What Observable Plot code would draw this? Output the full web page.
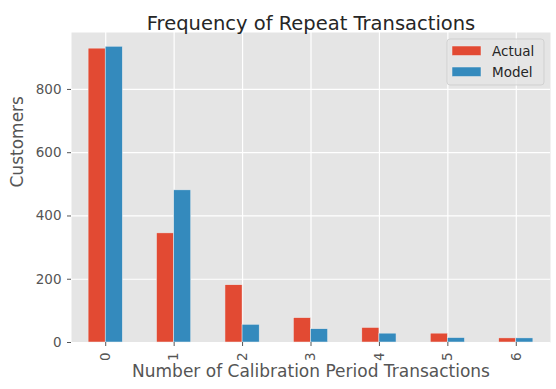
<!DOCTYPE html>
<html>
<head>
<meta charset="utf-8">
<script src="https://cdn.jsdelivr.net/npm/d3@7"></script>
<script src="https://cdn.jsdelivr.net/npm/@observablehq/plot@0.6"></script>
<style>
  html, body { margin: 0; padding: 0; background: white; }
  #chart { width: 556px; height: 389px; }
</style>
</head>
<body>
<div id="chart"></div>
<script>
const categories = [0, 1, 2, 3, 4, 5, 6];
const actual = [929, 345, 181, 77, 46, 28, 13];
const model = [935, 481, 56, 42, 28, 14, 13];
const seriesNames = ["Actual", "Model"];
const seriesColors = ["#E24A33", "#348ABD"];
const yTicks = [0, 200, 400, 600, 800];
const titleText = "Frequency of Repeat Transactions";
const xLabel = "Number of Calibration Period Transactions";
const yLabel = "Customers";

const data = categories.flatMap((c, i) => [
  {cat: c, series: "Actual", value: actual[i]},
  {cat: c, series: "Model", value: model[i]}
]);
const offsets = {Actual: [-0.25, 0], Model: [0, 0.25]};

const font = "DejaVu Sans";
const chart = Plot.plot({
  width: 556,
  height: 389,
  marginLeft: 71,
  marginRight: 6,
  marginTop: 32,
  marginBottom: 47,
  style: {fontFamily: font, fontSize: "13.5px", color: "#555555", background: "white", overflow: "visible"},
  x: {domain: [-0.5, 6.5]},
  y: {domain: [0, 980]},
  color: {domain: seriesNames, range: seriesColors},
  marks: [
    Plot.frame({fill: "#E5E5E5", stroke: "none"}),
    Plot.gridX(categories, {stroke: "white", strokeOpacity: 1, strokeWidth: 1.2}),
    Plot.gridY(yTicks, {stroke: "white", strokeOpacity: 1, strokeWidth: 1.2}),
    Plot.rect(data, {
      x1: d => d.cat + offsets[d.series][0],
      x2: d => d.cat + offsets[d.series][1],
      y1: d => 0,
      y2: "value",
      fill: "series",
      stroke: "#EEEEEE",
      strokeWidth: 0.5
    }),
    Plot.axisY(yTicks, {tickSize: 4, tickPadding: 6, stroke: "#555555", fill: "#555555", fontSize: 13.5, label: null}),
    Plot.axisX(categories, {tickSize: 4, tickPadding: 6, tickRotate: -90, stroke: "#555555", fill: "#555555", fontSize: 13.5, label: null}),
    Plot.text([yLabel], {frameAnchor: "left", rotate: -90, dx: -54, fontSize: 17, fill: "#555555"}),
    Plot.text([xLabel], {frameAnchor: "bottom", dy: 34, fontSize: 17, fill: "#555555"}),
    Plot.text([titleText], {frameAnchor: "top", dy: -16, fontSize: 19.5, fill: "#262626"})
  ]
});
document.getElementById("chart").appendChild(chart);

// Legend (matplotlib-style box in the upper right of the axes)
const svg = d3.select(chart);
const lg = svg.append("g").attr("font-family", font).attr("font-size", 13.5).attr("text-anchor", "start");
lg.append("rect")
  .attr("x", 447).attr("y", 39).attr("width", 97).attr("height", 46)
  .attr("rx", 3).attr("fill", "#E5E5E5").attr("fill-opacity", 0.8)
  .attr("stroke", "#CCCCCC").attr("stroke-opacity", 0.8).attr("stroke-width", 1);
seriesNames.forEach((name, i) => {
  lg.append("rect")
    .attr("x", 452).attr("y", 46 + i * 21).attr("width", 29).attr("height", 9.5)
    .attr("fill", seriesColors[i]).attr("stroke", "#EEEEEE").attr("stroke-width", 0.5);
  lg.append("text")
    .attr("x", 492).attr("y", 56 + i * 21)
    .attr("text-anchor", "start")
    .attr("fill", "#262626")
    .text(name);
});
</script>
</body>
</html>
